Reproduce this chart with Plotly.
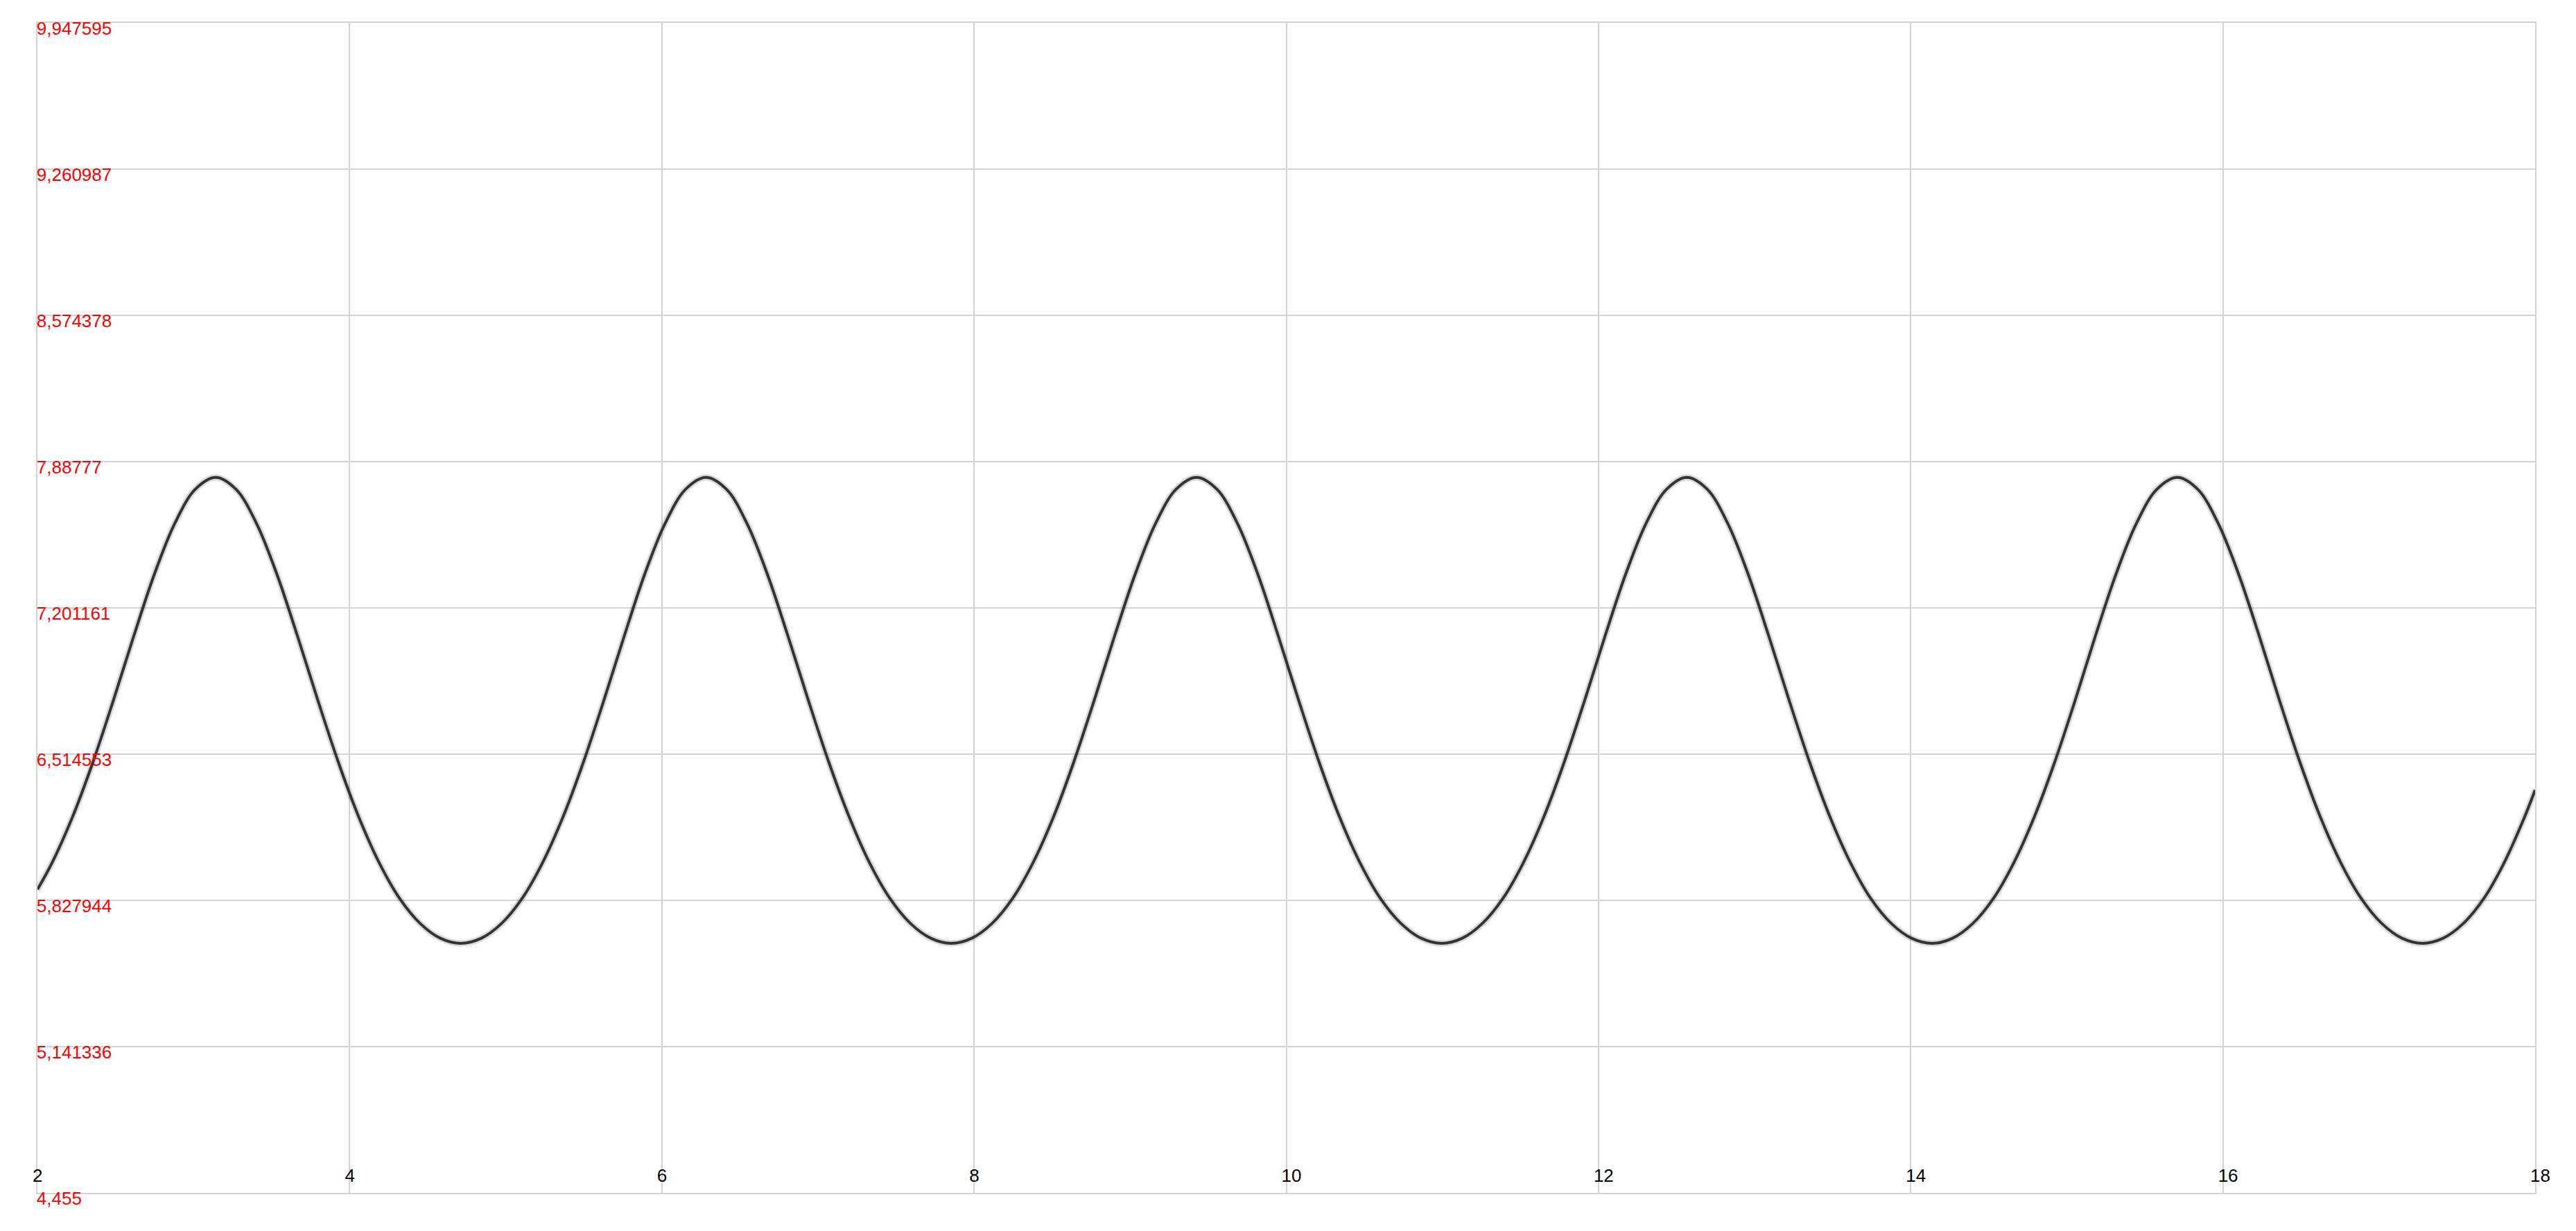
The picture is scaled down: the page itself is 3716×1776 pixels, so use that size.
import plotly.graph_objects as go

# x positions (units) and curve values
x_values = [
    2.0, 2.094, 2.225, 2.356, 2.487, 2.618, 2.749, 2.880, 3.011,
    3.142, 3.272, 3.403, 3.534, 3.665, 3.796, 3.927, 4.058, 4.189, 4.320, 4.451, 4.581,
    4.712, 4.843, 4.974, 5.105, 5.236, 5.367, 5.498, 5.629, 5.760, 5.890, 6.021, 6.152,
    6.283, 6.414, 6.545, 6.676, 6.807, 6.938, 7.069, 7.200, 7.330, 7.461, 7.592, 7.723,
    7.854, 7.985, 8.116, 8.247, 8.378, 8.509, 8.639, 8.770, 8.901, 9.032, 9.163, 9.294,
    9.425, 9.556, 9.687, 9.818, 9.948, 10.079, 10.210, 10.341, 10.472, 10.603, 10.734, 10.865,
    10.996, 11.127, 11.257, 11.388, 11.519, 11.650, 11.781, 11.912, 12.043, 12.174, 12.305, 12.436,
    12.566, 12.697, 12.828, 12.959, 13.090, 13.221, 13.352, 13.483, 13.614, 13.744, 13.875, 14.006,
    14.137, 14.268, 14.399, 14.530, 14.661, 14.792, 14.923, 15.054, 15.184, 15.315, 15.446, 15.577,
    15.708, 15.839, 15.970, 16.101, 16.232, 16.362, 16.493, 16.624, 16.755, 16.886, 17.017, 17.148,
    17.279, 17.410, 17.541, 17.672, 17.802, 17.933, 18.0,
]
y_values = [
    5.879, 6.005, 6.220, 6.478, 6.768, 7.071, 7.359, 7.598, 7.758,
    7.814, 7.758, 7.598, 7.359, 7.071, 6.768, 6.478, 6.220, 6.005, 5.837, 5.720, 5.650,
    5.626, 5.650, 5.720, 5.837, 6.005, 6.220, 6.478, 6.768, 7.071, 7.359, 7.598, 7.758,
    7.814, 7.758, 7.598, 7.359, 7.071, 6.768, 6.478, 6.220, 6.005, 5.837, 5.720, 5.650,
    5.626, 5.650, 5.720, 5.837, 6.005, 6.220, 6.478, 6.768, 7.071, 7.359, 7.598, 7.758,
    7.814, 7.758, 7.598, 7.359, 7.071, 6.768, 6.478, 6.220, 6.005, 5.837, 5.720, 5.650,
    5.626, 5.650, 5.720, 5.837, 6.005, 6.220, 6.478, 6.768, 7.071, 7.359, 7.598, 7.758,
    7.814, 7.758, 7.598, 7.359, 7.071, 6.768, 6.478, 6.220, 6.005, 5.837, 5.720, 5.650,
    5.626, 5.650, 5.720, 5.837, 6.005, 6.220, 6.478, 6.768, 7.071, 7.359, 7.598, 7.758,
    7.814, 7.758, 7.598, 7.359, 7.071, 6.768, 6.478, 6.220, 6.005, 5.837, 5.720, 5.650,
    5.626, 5.650, 5.720, 5.837, 6.005, 6.220, 6.346,
]

x_ticks = [2, 4, 6, 8, 10, 12, 14, 16, 18]
y_ticks = [4.454728, 5.141336, 5.827944, 6.514553, 7.201161, 7.88777,
           8.574378, 9.260987, 9.947595]
y_tick_labels = ["4,455", "5,141336", "5,827944", "6,514553", "7,201161",
                 "7,88777", "8,574378", "9,260987", "9,947595"]

GRID = "#d4d4d4"
FONT = "Liberation Sans, Arial, sans-serif"

fig = go.Figure()
# soft halo under the line
fig.add_trace(go.Scatter(
    x=x_values, y=y_values, mode="lines",
    line=dict(color="rgba(0,0,0,0.15)", width=9, shape="spline"),
    hoverinfo="skip",
))
fig.add_trace(go.Scatter(
    x=x_values, y=y_values, mode="lines",
    line=dict(color="#333333", width=4, shape="spline"),
))

fig.update_layout(
    width=3716,
    height=1776,
    margin=dict(l=46, r=67, t=25, b=63),
    paper_bgcolor="white",
    plot_bgcolor="white",
    showlegend=False,
    font=dict(family=FONT, size=26),
)
fig.update_xaxes(
    range=[2, 18],
    tickvals=x_ticks,
    ticktext=[str(t) for t in x_ticks],
    ticklabelposition="inside right",
    ticklabeloverflow="allow",
    ticklabelstandoff=10,
    ticklabelshift=-8,
    ticks="",
    tickfont=dict(color="black", size=26, family=FONT),
    showgrid=True, gridcolor=GRID, gridwidth=2,
    showline=True, linecolor=GRID, linewidth=2, mirror=True,
    zeroline=False,
)
fig.update_yaxes(
    range=[y_ticks[0], y_ticks[-1]],
    tickvals=y_ticks,
    ticktext=y_tick_labels,
    ticklabelposition="inside bottom",
    ticklabeloverflow="allow",
    ticklabelshift=-10,
    ticks="",
    tickfont=dict(color="red", size=26, family=FONT),
    showgrid=True, gridcolor=GRID, gridwidth=2,
    showline=True, linecolor=GRID, linewidth=2, mirror=True,
    zeroline=False,
)

fig.write_html("out.html")
